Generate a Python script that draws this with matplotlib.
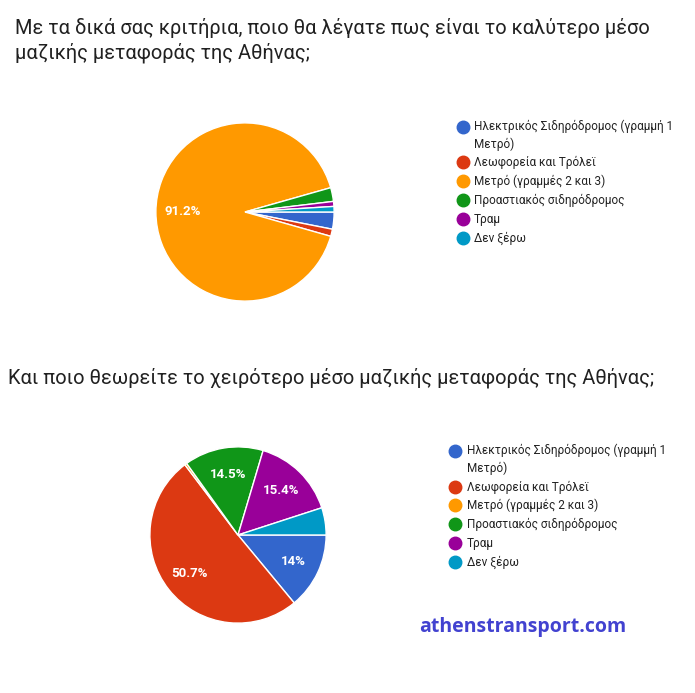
import matplotlib.pyplot as plt
from matplotlib.lines import Line2D

W, H = 695, 693

categories = ["Ηλεκτρικός Σιδηρόδρομος (γραμμή 1\nΜετρό)", "Λεωφορεία και Τρόλεϊ",
              "Μετρό (γραμμές 2 και 3)", "Προαστιακός σιδηρόδρομος", "Τραμ", "Δεν ξέρω"]
colors = ["#3366cc", "#dc3912", "#ff9900", "#109618", "#990099", "#0099c6"]

title_best = "Με τα δικά σας κριτήρια, ποιο θα λέγατε πως είναι το καλύτερο μέσο\nμαζικής μεταφοράς της Αθήνας;"
best = [3.1, 1.3, 91.2, 2.5, 0.9, 1.0]

title_worst = "Και ποιο θεωρείτε το χειρότερο μέσο μαζικής μεταφοράς της Αθήνας;"
worst = [14.0, 50.7, 0.4, 14.5, 15.4, 5.0]

plt.rcParams['font.family'] = ['Roboto', 'DejaVu Sans']

fig = plt.figure(figsize=(W / 100, H / 100), dpi=100)


def fx(x):
    return x / W


def fy(y):
    return 1 - y / H


def pct_label(p):
    if p < 10:
        return ""
    s = "%.1f" % p
    if s.endswith(".0"):
        s = s[:-2]
    return s + "%"


def draw_pie(values, cx, cy, r):
    ax = fig.add_axes([fx(cx - r), fy(cy + r), 2 * r / W, 2 * r / H])
    ax.pie(values, colors=colors, startangle=0, counterclock=False,
           autopct=pct_label, pctdistance=0.7,
           wedgeprops=dict(edgecolor="white", linewidth=1),
           textprops=dict(color="white", fontsize=9.5, fontweight="bold"))
    ax.set_xlim(-1.01, 1.01)
    ax.set_ylim(-1.01, 1.01)
    ax.set_aspect("auto")
    ax.axis("off")


def draw_legend(mx, tx, ys):
    # ys: y of the marker for each entry
    for i, lab in enumerate(categories):
        fig.add_artist(Line2D([fx(mx)], [fy(ys[i])], marker="o", markersize=9,
                              color=colors[i], linestyle="none"))
        ty = ys[i] + 8 if "\n" in lab else ys[i]
        fig.text(fx(tx), fy(ty), lab, fontsize=8.5, color="#222222",
                 va="center", ha="left", linespacing=1.45)


fig.text(fx(15), fy(40.5), title_best, fontsize=14.4, color="#212121",
         va="center", ha="left", linespacing=1.3)
draw_pie(best, 245, 212, 90)
draw_legend(463, 474, [127, 162, 181, 200, 219, 238])

fig.text(fx(8), fy(378), title_worst, fontsize=14.4, color="#212121",
         va="center", ha="left")
draw_pie(worst, 238, 535, 89)
draw_legend(455, 467, [451, 487, 505, 524, 543, 562])

fig.text(fx(523), fy(627), "athenstransport.com", fontsize=14, fontweight="bold",
         color="#4242d0", family=["Open Sans", "DejaVu Sans"], ha="center", va="center")

fig.savefig("out.png", dpi=100, facecolor="white")
